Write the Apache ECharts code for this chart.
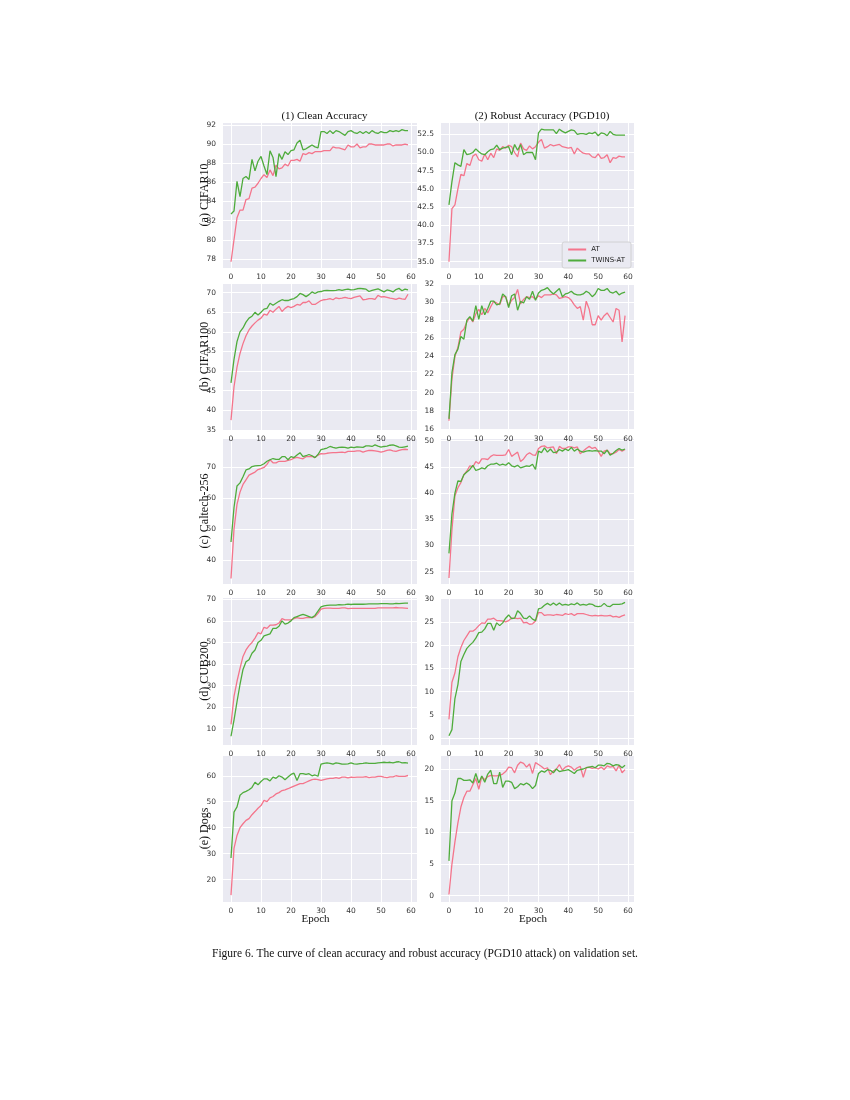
<!DOCTYPE html>
<html><head><meta charset="utf-8">
<script src="https://cdn.jsdelivr.net/npm/echarts@6/dist/echarts.min.js"></script>
<style>html,body{margin:0;padding:0;background:#fff}#c{width:850px;height:1100px}</style>
</head><body><div id="c"></div>
<script>
const epochs = Array.from({length:60},(_,i)=>i);
const seriesNames = ['AT','TWINS-AT'];
const colTitles = ['(1) Clean Accuracy','(2) Robust Accuracy (PGD10)'];
const rowTitles = ['(a) CIFAR10','(b) CIFAR100','(c) Caltech-256','(d) CUB200','(e) Dogs'];

const cifar10CleanAT = [77.7,80,82.3,83.1,83.1,84.2,84.3,85.4,85.5,85.9,86.4,86.8,86.5,87.3,86.7,87.8,87.4,87.5,87.9,87.7,88.3,88.3,88.4,88.2,89.0,88.9,89.1,89.0,89.2,89.2,89.2,89.3,89.3,89.3,89.7,89.6,89.6,89.5,89.4,89.9,89.7,89.7,90.0,89.6,89.7,89.7,90.0,90.0,89.9,89.9,89.9,89.9,90.0,90.0,89.8,89.9,89.9,89.9,90.0,89.9];
const cifar10CleanTW = [82.7,83.0,86.1,84.5,86.4,86.6,86.3,88.4,87.2,88.2,88.7,87.7,86.8,89.3,88.6,86.6,89.0,88.4,89.2,88.9,89.3,89.4,90.1,90.4,89.4,89.5,89.7,89.9,89.7,89.6,91.3,91.3,91.1,91.4,91.1,91.4,91.3,91.1,90.9,91.3,91.4,91.2,91.1,91.3,91.1,91.3,91.1,91.4,91.2,91.1,91.3,91.2,91.2,91.4,91.3,91.4,91.3,91.5,91.4,91.4];
const cifar10RobAT = [35,42.3,42.8,45,47,46.8,48.5,48.2,49.5,49.8,49,48.8,49.8,49,49.9,49.3,50.5,50.3,50.8,50.6,51,50.8,50,49.4,51.3,50.5,50.3,50.9,50.5,50.8,51.4,51.8,50.6,50.8,51.1,50.9,51,51.1,50.8,50.7,50.6,50.7,49.8,50.6,50.2,49.9,49.8,49.8,49.4,49.3,49.8,49.2,49.3,49.7,48.6,49.3,49.2,49.5,49.4,49.4];
const cifar10RobTW = [42.8,46,48.6,48.3,48.1,50.4,49.7,49.8,50,50.5,50.1,49.8,49.7,50.1,50.4,50.5,51,50.4,50.6,50.7,50.8,49.7,51.1,50.3,51.1,49.7,50,50,50,49,52.7,53.2,53.1,53.1,53.1,53.1,52.6,53.2,52.9,52.7,52.9,53.1,53.0,52.5,52.6,52.6,52.5,52.7,52.6,52.8,52.3,52.7,52.6,52.3,52.9,52.5,52.4,52.4,52.4,52.4];
const cifar100CleanAT = [37.5,46,51,54.5,57,59,60.5,61.5,62.3,63,63.5,64.5,64.3,65.5,65,65.8,66.5,65.2,66,66.5,66.2,66.5,67,66.8,67.5,67.5,67.9,67,67,67.5,68,68.2,68.3,68.5,68.2,68.7,68.5,68.6,68.8,68.6,68.5,68.8,69,69.2,68.2,68.3,68.5,68.5,68.3,69.3,68.9,69,68.8,68.6,68.5,68.3,68.6,68.4,68.3,69.6];
const cifar100CleanTW = [47,53,57.5,60,61,62.5,63.5,64,65,64.3,65,65.8,66,67.3,66.8,67.3,67.8,68.2,68,68,68.3,68.5,69,69.8,69.5,69,69.5,70.2,69.8,70.2,70.3,70.5,70.6,70.5,70.5,70.6,70.8,70.6,70.8,70.9,70.7,70.8,71,71.1,71,70.9,70.3,70.6,70.8,71.0,70.6,70.2,70.7,70.5,70.2,70.8,71.1,70.5,70.9,70.7];
const cifar100RobAT = [16.9,21.5,24,25,26.7,27,27.8,28.3,27.8,28.7,29.2,28.6,29.3,28.8,29.5,30.1,29.9,29.7,30.6,30.6,29.6,30.2,30.5,31.4,29.8,30.3,30.6,30.5,30.6,30.3,30.7,30.5,30.8,30.8,30.8,30.9,30.8,30.4,30.5,30.6,30.5,30.2,29.7,29.3,29.5,28,30.1,29.2,27.5,27.5,28.5,28,28.5,28.8,28.3,27.8,29.3,29.1,25.6,28.5];
const cifar100RobTW = [17.1,22.2,24.2,24.8,26.2,25.9,28,28.4,27.9,29.6,28.1,29.6,28.6,29.3,30.1,30.1,29.7,29.8,30.9,30.6,29.4,30.7,30.9,29.1,30.1,29.9,30.6,30.3,31.2,30.2,31.0,31.3,31.4,31.6,31.2,30.9,31.2,31.5,30.6,30.9,31.0,31.2,30.9,30.8,30.8,30.9,31.2,31.0,30.6,30.9,31.5,31.3,31.3,31.5,31.1,31.0,31.2,30.8,31.0,31.1];
const caltechCleanAT = [34,50,58,62,64.5,66,67.5,68,68.5,69.3,69.6,70,71,72.5,71.5,71.5,72,72,72,72.3,72.5,73,73.3,73,72.8,73.5,73.5,73.6,73.2,74,74.5,74.4,74.6,74.7,74.8,74.8,74.9,75,74.8,75.2,75.2,75.2,75.4,75.4,75,75.3,75.5,75.5,75.4,75.2,75,75.2,75.5,75.7,75.4,75.2,75.5,75.8,75.9,75.8];
const caltechCleanTW = [45.8,57,64,65,67,69.2,69.5,70.3,70.5,70.6,70.7,71.2,72,72.5,72.9,72.6,72.6,73.5,73.5,72.5,73.5,73.2,74,74.8,73.5,73.8,74.2,73.8,73.2,74.2,75.8,76,76.3,76.8,76.5,76.3,76.5,76.6,76.5,76.3,76.6,76.4,76.7,76.6,76.5,77,77,76.8,77.3,76.9,76.6,76.8,76.9,77.2,77.3,77,76.6,76.5,76.7,76.9];
const caltechRobAT = [23.8,33,39.5,41,42,43.5,44.2,45.2,45,46,45.6,46.5,46.5,46.4,47,47.3,47.2,47.2,47.2,47.3,48.3,47,47.4,47.8,46,46.5,47.3,47.7,47.3,47.2,48.5,48.9,49,48.6,48.7,48.8,47.5,48.9,48.5,48.5,48.8,48.8,48.6,48.8,47.5,48,48.5,48.9,48.5,48.7,48,47,48,48.2,47.5,47.5,47.8,48.3,48,48.3];
const caltechRobTW = [28.5,36,40,42.3,42.2,43.5,44,44.5,45.3,44.3,44.5,44.8,44.6,45.2,45.5,45.5,45.7,45.3,45.5,45.3,45.8,45.2,45,45.3,44.8,45,45.2,45.1,45.5,44.5,48,47.7,48.6,47.8,48.4,47.7,47.8,48.3,48,48.4,48.1,48.7,48,48.4,48,47.8,48,48.1,48,48.1,48,48,47.5,48.2,47.2,47.6,48.1,48.5,48.2,48.4];
const cubCleanAT = [12,25,32,38,43.5,46.5,48.5,50,52,54.5,54,57,56.5,58,58,58.2,59,61,60.5,60.5,60.5,61,61.5,61.2,61.2,61.5,61.5,61.5,62,63.5,65.5,65.8,65.9,65.9,65.8,65.8,65.8,66,66,65.7,65.8,65.8,65.8,65.8,65.8,65.8,65.8,65.8,65.8,66,66,66,66,66,66,66.2,66,66,65.9,65.8];
const cubCleanTW = [6.5,14,22.5,30.5,37.5,41,42,45,46.5,50,51,53,53.5,54,56.5,56.5,57.5,60,58.5,59,60,61.5,62,62.5,63,62.5,62,61.5,62.5,64.5,66.5,67,67.2,67.3,67.3,67.3,67.5,67.4,67.5,67.8,67.6,67.8,67.7,67.8,67.7,67.8,67.9,67.9,67.9,67.9,68,68,68,67.9,67.9,68.1,68,68.1,68.2,68.2];
const cubRobAT = [4,12,14,17.5,19.5,21,22,23,23,23.5,24.2,24.8,24.7,25.6,25.6,25.8,25.3,25.3,25.2,25,25.3,25.8,25.8,25.7,25.8,24.8,24.9,24.5,24.6,25.2,27,27,26.4,26.5,26.5,26.4,26.6,26.5,26.4,26.8,26.6,26.8,26.4,26.8,26.8,26.8,26.6,26.4,26.3,26.4,26.3,26.4,26.3,26.3,26.4,26.1,26.2,26,26.3,26.5];
const cubRobTW = [0.5,1.8,8.5,11.5,16.5,18,19.3,20,20.6,21.5,22.7,22.8,23.5,24.7,24.7,23.2,24.8,24.2,24.8,25.8,26.5,25.7,25.8,27.4,26.8,25.8,25.7,26.3,25.6,25.3,27.8,28,28.6,29,28.6,29.1,28.6,29.1,28.6,28.8,28.6,28.9,28.7,29.1,28.6,28.8,28.6,28.9,28.8,28.4,28.3,28.4,29,28.4,28.3,28.8,28.8,28.8,28.9,29.2];
const dogsCleanAT = [14,32,37,40,41.5,42.8,43.5,45,46.2,47.5,48.5,50.5,50,51.5,52,53,53.5,54.3,54.6,55,55.5,56,56.5,57,57,57.5,58,58.5,58.7,58.5,58.2,58.5,58.8,59,59,59.3,59,59.5,59.5,59.2,59.5,59.4,59.5,59.5,59.5,59.7,59.3,59.5,59.5,59.8,59.8,59.5,59.3,59.6,59.6,60,59.8,59.8,59.8,60.1];
const dogsCleanTW = [28.3,46,48,52.5,53.5,54,54.6,55.5,57.5,56.5,57.8,58.8,58.8,58,59.5,59,60,59.5,58.5,59.5,60.5,61,58.2,60.8,60.8,60.5,60.8,60,60.3,59.8,64.5,64.8,65,64.8,64.5,65,64.8,64.5,64.5,64.6,65,64.6,64.5,64.7,64.8,65,64.8,64.8,64.8,65,65.1,65.2,65.1,65.2,65,65.3,65.4,65,65.1,64.9];
const dogsRobAT = [0.2,5,8.5,11.5,14,15.5,16.5,16.5,17.5,18.5,16.8,18.8,18.3,18.8,19,18.9,18.9,19,19.2,19.6,20.3,20.2,19.4,20.6,21.1,20.9,20.3,20.8,19.3,21,20.7,20.4,20,20.2,19.1,19.7,20,20.7,19.8,20.3,20.5,20.3,19.8,20.2,20.4,18.7,20.2,20.3,20.1,20.2,20,20.3,19.9,20.5,20.3,20.4,19.7,20.6,19.4,19.9];
const dogsRobTW = [5.5,15,16.2,18.5,18.5,18.2,18.2,18.3,17.8,19.3,17.8,18.9,17.9,19.2,19.8,17.7,17.7,19.5,17.1,18.1,18.1,17.9,16.9,17.2,17.7,17.5,17.8,17.5,16.9,17.4,19.3,19.7,19.5,19.9,19.8,19.4,20,19.6,19.7,19.8,19.9,19.6,19.3,19.8,19.9,20,20.2,20.3,20.4,20.2,20.6,20.6,20.5,20.9,20.8,20.5,20.7,20.6,20.2,20.6];

// [AT, TWINS] per panel, row-major
const panelData = [
  [cifar10CleanAT,cifar10CleanTW],[cifar10RobAT,cifar10RobTW],
  [cifar100CleanAT,cifar100CleanTW],[cifar100RobAT,cifar100RobTW],
  [caltechCleanAT,caltechCleanTW],[caltechRobAT,caltechRobTW],
  [cubCleanAT,cubCleanTW],[cubRobAT,cubRobTW],
  [dogsCleanAT,dogsCleanTW],[dogsRobAT,dogsRobTW]
];
// y ranges & tick step per panel
const yMin = [77.05,34.13,34.97,15.87,32.2,22.65,2.44,-1.51,11.35,-0.99];
const yMax = [92.3,54.19,72.47,32.11,79.55,50.5,71.07,30.37,68,22.21];
const yStep = [2,2.5,5,2,10,5,10,5,10,5];

const rowTop = [122,283,438,597,755];
const rowH = [146,147,146,148,147];
const colLeft = [222,440];
const colW = [195,194];
const C_AT = '#f4758c', C_TW = '#4fac3c';

const grids=[],xAxes=[],yAxes=[],series=[],titles=[];
panelData.forEach((pd,i)=>{
  const r=Math.floor(i/2), c=i%2;
  grids.push({left:colLeft[c],top:rowTop[r],width:colW[c],height:rowH[r],show:true,backgroundColor:'#eaeaf2',borderWidth:0});
  const step=yStep[i];
  const fmt=(s)=>v=>{const q=v/s;return Math.abs(q-Math.round(q))<1e-6?(s===2.5?v.toFixed(1):String(Math.round(v))):'';};
  xAxes.push({type:'value',gridIndex:i,min:-3,max:62,minInterval:10,maxInterval:10,
    axisLine:{show:false},axisTick:{show:false},
    splitLine:{show:true,lineStyle:{color:'#ffffff',width:1}},
    axisLabel:{fontSize:7.5,color:'#333',fontFamily:'DejaVu Sans',margin:5,showMinLabel:false,showMaxLabel:false,formatter:fmt(10)}});
  yAxes.push({type:'value',gridIndex:i,min:yMin[i],max:yMax[i],minInterval:step,maxInterval:step,
    axisLine:{show:false},axisTick:{show:false},
    splitLine:{show:true,lineStyle:{color:'#ffffff',width:1}},
    axisLabel:{fontSize:7.5,color:'#333',fontFamily:'DejaVu Sans',margin:6,showMinLabel:false,showMaxLabel:false,formatter:fmt(step)}});
  pd.forEach((arr,k)=>{
    series.push({type:'line',name:seriesNames[k],xAxisIndex:i,yAxisIndex:i,showSymbol:false,symbol:'none',
      data:epochs.map((e,j)=>[e,arr[j]]),lineStyle:{width:1.3,color:k?C_TW:C_AT},itemStyle:{color:k?C_TW:C_AT},z:k?3:2,animation:false});
  });
});
colTitles.forEach((t,c)=>titles.push({text:t,left:colLeft[c]+colW[c]/2,top:106,textAlign:'center',textStyle:{fontFamily:'Liberation Serif',fontSize:11,fontWeight:'normal',color:'#111'}}));
rowTitles.forEach((t,r)=>{});
const graphics=[];
rowTitles.forEach((t,r)=>graphics.push({type:'text',x:199,y:rowTop[r]+rowH[r]/2,rotation:Math.PI/2,
  style:{text:t,font:'12px "Liberation Serif"',fill:'#111',align:'center',verticalAlign:'top'}}));
colLeft.forEach((l,c)=>graphics.push({type:'text',x:l+colW[c]/2-4,y:914,style:{text:'Epoch',font:'11px "Liberation Serif"',fill:'#111',align:'center'}}));
graphics.push({type:'text',x:425,y:948,style:{text:'Figure 6. The curve of clean accuracy and robust accuracy (PGD10 attack) on validation set.',font:'11.5px "Liberation Serif"',fill:'#111',align:'center'}});

const chart=echarts.init(document.getElementById('c'),null,{renderer:'canvas'});
chart.setOption({animation:false,backgroundColor:'#fff',title:titles,grid:grids,xAxis:xAxes,yAxis:yAxes,series,graphic:graphics,
  legend:{data:seriesNames,orient:'vertical',right:850-634+3,top:242,itemWidth:18,itemHeight:2,itemGap:4,icon:'rect',
    backgroundColor:'#eaeaf2',borderColor:'#cccccc',borderWidth:0.8,borderRadius:2,padding:[4,6,4,6],
    textStyle:{fontSize:7,color:'#222',fontFamily:'DejaVu Sans'}}});
</script></body></html>
